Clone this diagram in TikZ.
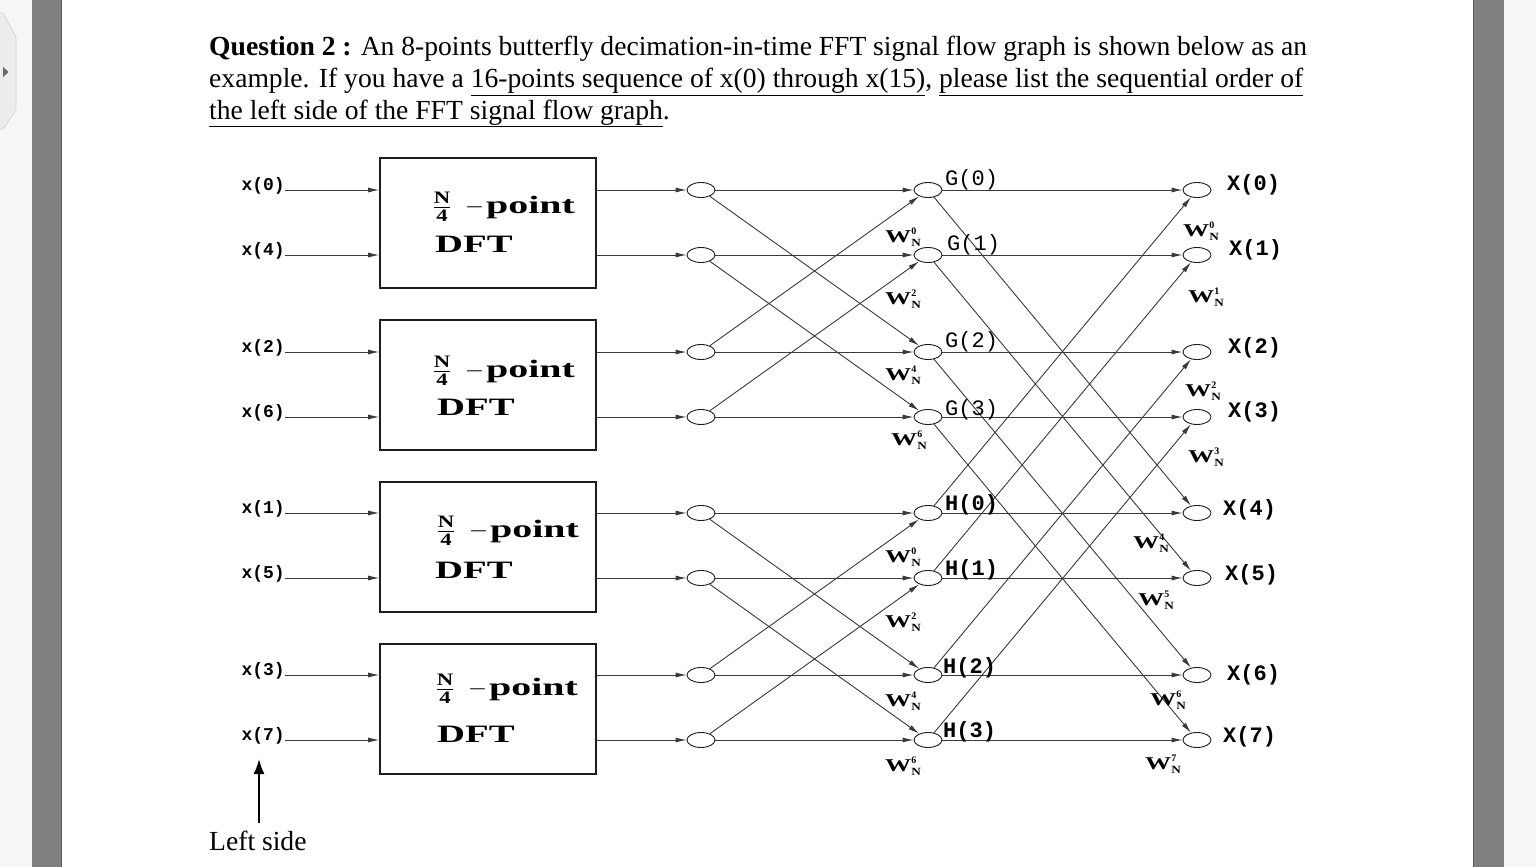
\documentclass[tikz,border=0pt]{standalone}
\usepackage{fontspec}
\usepackage{graphicx}
\setmainfont{Liberation Serif}
\newfontfamily\lblfont{Liberation Mono}
\usetikzlibrary{arrows.meta,shapes.geometric}
\definecolor{pagegray}{HTML}{808080}
\definecolor{sidegray}{HTML}{F6F6F6}
\definecolor{tabgray}{HTML}{EDEDED}
\definecolor{tabline}{HTML}{D6D6D6}
\definecolor{ink}{HTML}{1E1E1E}
\definecolor{wiregray}{HTML}{3A3A3A}
\newcommand{\twid}[1]{\bfseries\fontsize{18}{18}\selectfont\scalebox{1.45}[1]{W}\rlap{\raisebox{8pt}{\fontsize{10}{10}\selectfont #1}}\raisebox{-4pt}{\fontsize{11}{11}\selectfont\scalebox{1.2}[1]{N}}}
\newcommand{\ptline}{\fontsize{25}{25}\selectfont\scalebox{1.3}[1]{$\frac{\mathbf{N}}{\mathbf{4}}$}\hspace{13pt}$-$\hspace{2pt}\scalebox{1.6}[1]{\bfseries point}}
\newcommand{\dftline}{\fontsize{25}{25}\selectfont\scalebox{1.55}[1]{\bfseries DFT}}
\begin{document}
\begin{tikzpicture}[x=1pt,y=-1pt,
  circ/.style={ellipse, draw=ink, line width=0.9pt, minimum width=28pt, minimum height=15pt, inner sep=0pt},
  dftbox/.style={draw=ink, line width=1.6pt, minimum width=216pt, minimum height=130pt, inner sep=0pt},
  wire/.style={draw=wiregray, line width=0.9pt, -{Latex[length=11pt,width=5pt]}},
  inlbl/.style={font=\lblfont\bfseries\fontsize{18}{18}\selectfont, inner sep=0pt, anchor=base east},
  outlbl/.style={font=\lblfont\bfseries\fontsize{22}{22}\selectfont, inner sep=0pt, anchor=base west},
  glbl/.style={font=\lblfont\fontsize{22}{22}\selectfont, inner sep=0pt, anchor=base west},
  twl/.style={inner sep=0pt, anchor=base west},
  bodytext/.style={font=\fontsize{27.6}{27.6}\selectfont, inner sep=0pt, anchor=base west},
  boxtext/.style={inner sep=0pt, anchor=base west}]
\useasboundingbox (0,0) rectangle (1536,867);
% page background and viewer chrome
\fill[white] (0,0) rectangle (1536,867);
\fill[sidegray] (0,0) rectangle (32,867);
\fill[pagegray] (32,0) rectangle (62,867);
\draw[pagegray!70!black, line width=1pt] (61.5,0) -- (61.5,867);
\fill[pagegray] (1473,0) rectangle (1504,867);
\draw[pagegray!70!black, line width=1pt] (1473.5,0) -- (1473.5,867);
\fill[sidegray] (1504,0) rectangle (1536,867);
\filldraw[fill=tabgray, draw=tabline, line width=0.8pt] (0,13) -- (3,13) -- (16,37) -- (16,110) -- (3,129) -- (0,129);
\fill[black!60] (3,67) -- (8.5,72) -- (3,77) -- cycle;

% question text
\node[bodytext] (q1) at (209,56) {\makebox[1098pt][s]{\textbf{Question 2 :} An 8-points butterfly decimation-in-time FFT signal flow graph is shown below as an}};
\node[bodytext] (q2) at (209,87.5) {\makebox[1094pt][s]{example. If you have a \underline{16-points sequence of x(0) through x(15)}, \underline{please list the sequential order of}}};
\node[bodytext] (q3) at (209,119) {\underline{the left side of the FFT signal flow graph}.};

% DFT boxes
\node[dftbox] (b1) at (488,223) {};
\node[dftbox] (b2) at (488,385) {};
\node[dftbox] (b3) at (488,547) {};
\node[dftbox] (b4) at (488,709) {};
\node[boxtext] (p1) at (432,213) {\ptline};
\node[boxtext] (d1) at (435,252) {\dftline};
\node[boxtext] (p2) at (432,377) {\ptline};
\node[boxtext] (d2) at (437,415) {\dftline};
\node[boxtext] (p3) at (436,537) {\ptline};
\node[boxtext] (d3) at (435,578) {\dftline};
\node[boxtext] (p4) at (435,695) {\ptline};
\node[boxtext] (d4) at (437,742) {\dftline};

% nodes of the three columns
\foreach \i/\y in {0/190,1/255,2/352,3/417,4/513,5/578,6/675,7/740}{
  \node[circ] (a\i) at (701,\y) {};
  \node[circ] (g\i) at (928,\y) {};
  \node[circ] (X\i) at (1197,\y) {};
}

% inputs
\foreach \i/\y/\lab/\b in {0/190/0/1,1/255/4/1,2/352/2/2,3/417/6/2,4/513/1/3,5/578/5/3,6/675/3/4,7/740/7/4}{
  \node[inlbl] (l\i) at (285,\y) {x(\lab)};
  \draw[wire] (l\i.base east) -- (l\i.base east -| b\b.west);
  \draw[wire] (a\i -| b\b.east) -- (a\i);
}

% stage 1 butterflies
\foreach \s/\t in {0/0,0/2,1/1,1/3,2/2,2/0,3/3,3/1,4/4,4/6,5/5,5/7,6/6,6/4,7/7,7/5}{
  \draw[wire] (a\s) -- (g\t);
}
% stage 2 butterflies
\foreach \s/\t in {0/0,1/1,2/2,3/3,4/4,5/5,6/6,7/7,0/4,1/5,2/6,3/7,4/0,5/1,6/2,7/3}{
  \draw[wire] (g\s) -- (X\t);
}

% G / H labels
\node[glbl] (gl0) at (945,185) {G(0)};
\node[glbl] (gl1) at (947,250) {G(1)};
\node[glbl] (gl2) at (945,347) {G(2)};
\node[glbl] (gl3) at (945,415) {G(3)};
\node[outlbl] (gl4) at (945,510) {H(0)};
\node[outlbl] (gl5) at (945,575) {H(1)};
\node[outlbl] (gl6) at (943,673) {H(2)};
\node[outlbl] (gl7) at (943,737) {H(3)};

% output labels
\node[outlbl] (xl0) at (1227,190) {X(0)};
\node[outlbl] (xl1) at (1229,255) {X(1)};
\node[outlbl] (xl2) at (1228,353) {X(2)};
\node[outlbl] (xl3) at (1228,417) {X(3)};
\node[outlbl] (xl4) at (1223,515) {X(4)};
\node[outlbl] (xl5) at (1225,580) {X(5)};
\node[outlbl] (xl6) at (1227,680) {X(6)};
\node[outlbl] (xl7) at (1223,742) {X(7)};

% twiddle factors, stage 1
\node[twl] (w1) at (885,242) {\twid{0}};
\node[twl] (w2) at (885,304) {\twid{2}};
\node[twl] (w3) at (885,380) {\twid{4}};
\node[twl] (w4) at (891,445) {\twid{6}};
\node[twl] (w5) at (885,562) {\twid{0}};
\node[twl] (w6) at (885,627) {\twid{2}};
\node[twl] (w7) at (885,706) {\twid{4}};
\node[twl] (w8) at (885,771) {\twid{6}};
% twiddle factors, stage 2
\node[twl] (w9) at (1183,236) {\twid{0}};
\node[twl] (w10) at (1188,302) {\twid{1}};
\node[twl] (w11) at (1185,396) {\twid{2}};
\node[twl] (w12) at (1188,462) {\twid{3}};
\node[twl] (w13) at (1133,548) {\twid{4}};
\node[twl] (w14) at (1138,605) {\twid{5}};
\node[twl] (w15) at (1150,705) {\twid{6}};
\node[twl] (w16) at (1145,769) {\twid{7}};

% left side pointer
\node[bodytext] (ls) at (209,850) {Left side};
\coordinate (lsb) at (259,823);
\coordinate (lst) at (259,759);
\draw[black, line width=2pt, -{Latex[length=15pt,width=11pt]}] (lsb) -- (lst);
\end{tikzpicture}
\end{document}
